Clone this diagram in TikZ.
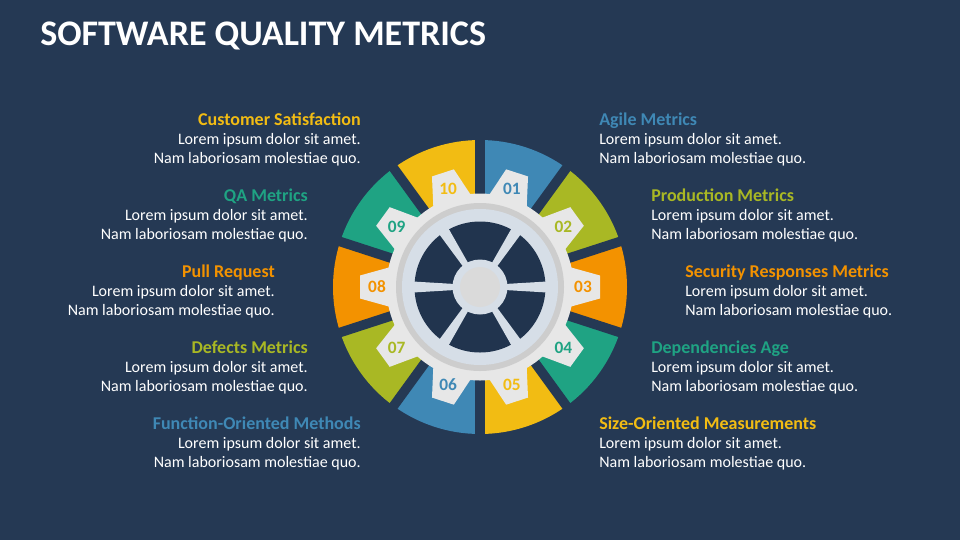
\documentclass[tikz,border=0pt]{standalone}
\usepackage{fontspec}
\setmainfont{Carlito}
\definecolor{bgc}{HTML}{253954}
\definecolor{darkc}{HTML}{21344E}
\definecolor{cblue}{HTML}{3F88B5}
\definecolor{colive}{HTML}{A9B824}
\definecolor{corange}{HTML}{F39200}
\definecolor{cteal}{HTML}{1FA383}
\definecolor{cyellow}{HTML}{F2BC13}
\definecolor{gearc}{HTML}{E7E7E7}
\definecolor{shadowc}{HTML}{CDCDCD}
\definecolor{rimc}{HTML}{D6DEE7}
\definecolor{hubc}{HTML}{DADADA}
\tikzset{
  hdr/.style={inner sep=0pt, font=\bfseries\fontsize{13.5}{16}\selectfont},
  bodytxt/.style={inner sep=0pt, text=white, font=\fontsize{12}{14.5}\selectfont},
  numlab/.style={inner sep=0pt, font=\bfseries\fontsize{13}{15}\selectfont},
}
\newcommand\RBlock[5]{%
  \node[hdr, text=#4, anchor=base west] (#1) at (#2,#3) {#5};
  \node[bodytxt, anchor=base west] (#1a) at (#2,#3+18.6) {Lorem ipsum dolor sit amet.};
  \node[bodytxt, anchor=base west] (#1b) at (#2,#3+38) {Nam laboriosam molestiae quo.};}
\newcommand\LBlock[5]{%
  \node[hdr, text=#4, anchor=base east] (#1) at (#2,#3) {#5};
  \node[bodytxt, anchor=base east] (#1a) at (#2,#3+18.6) {Lorem ipsum dolor sit amet.};
  \node[bodytxt, anchor=base east] (#1b) at (#2,#3+38) {Nam laboriosam molestiae quo.};}
\begin{document}
\begin{tikzpicture}[x=0.75pt,y=-0.75pt]
\fill[bgc] (0,0) rectangle (960,540);
\useasboundingbox (0,0) rectangle (960,540);
\node[anchor=base west, text=white, inner sep=0pt, font=\bfseries\fontsize{27}{32}\selectfont] (title) at (40,45) {SOFTWARE QUALITY METRICS};

\begin{scope}[shift={(480,287)}]
\begin{scope}[x=0.75pt,y=0.75pt]
  % coloured segments
  \foreach \i/\c in {1/cblue,2/colive,3/corange,4/cteal,5/cyellow,6/cblue,7/colive,8/corange,9/cteal,10/cyellow} {
    \pgfmathsetmacro\a{72-36*(\i-1)}
    \fill[\c] (\a-18:147) arc[start angle=\a-18, end angle=\a+18, radius=147]
      -- (\a+18:85) arc[start angle=\a+18, end angle=\a-18, radius=85] -- cycle;
  }
  % gaps
  \foreach \k in {0,...,9} {
    \draw[bgc, line width=7.2pt] (18+36*\k:80) -- (18+36*\k:152);
  }
  % gear body and teeth
  \fill[gearc] (0,0) circle[radius=93.5];
  \foreach \i in {1,...,10} {
    \pgfmathsetmacro\a{72-36*(\i-1)}
    \fill[gearc, rotate=\a] (80,-22.6) -- (120,-11.5) -- (120,11.5) -- (80,22.6) -- cycle;
  }
  % rings
  \fill[shadowc] (0,0) circle[radius=84];
  \fill[rimc] (0,0) circle[radius=78];
  \fill[darkc] (0,0) circle[radius=65.5];
  % spokes
  \foreach \s in {0,57,123,180,237,303} {
    \fill[rimc, rotate=\s] (25,-3) -- (67,-5.5) -- (67,5.5) -- (25,3) -- cycle;
  }
  % hub
  \fill[rimc] (0,0) circle[radius=27.5];
  \fill[hubc] (0,0) circle[radius=20];
  % tooth numbers
  \foreach \i/\n/\c in {1/01/cblue,2/02/colive,3/03/corange,4/04/cteal,5/05/cyellow,6/06/cblue,7/07/colive,8/08/corange,9/09/cteal,10/10/cyellow} {
    \pgfmathsetmacro\a{72-36*(\i-1)}
    \node[numlab, text=\c] (n\n) at (\a:103) {\n};
  }
\end{scope}
\end{scope}

\RBlock{agile}{599}{125.7}{cblue}{Agile Metrics}
\RBlock{prod}{651}{201.7}{colive}{Production Metrics}
\RBlock{sec}{685}{277.7}{corange}{Security Responses Metrics}
\RBlock{dep}{651}{353.7}{cteal}{Dependencies Age}
\RBlock{size}{599}{429.7}{cyellow}{Size-Oriented Measurements}
\LBlock{cust}{361}{125.7}{cyellow}{Customer Satisfaction}
\LBlock{qa}{308}{201.7}{cteal}{QA Metrics}
\LBlock{pull}{275}{277.7}{corange}{Pull Request}
\LBlock{def}{308}{353.7}{colive}{Defects Metrics}
\LBlock{func}{361}{429.7}{cblue}{Function-Oriented Methods}
\end{tikzpicture}
\end{document}
